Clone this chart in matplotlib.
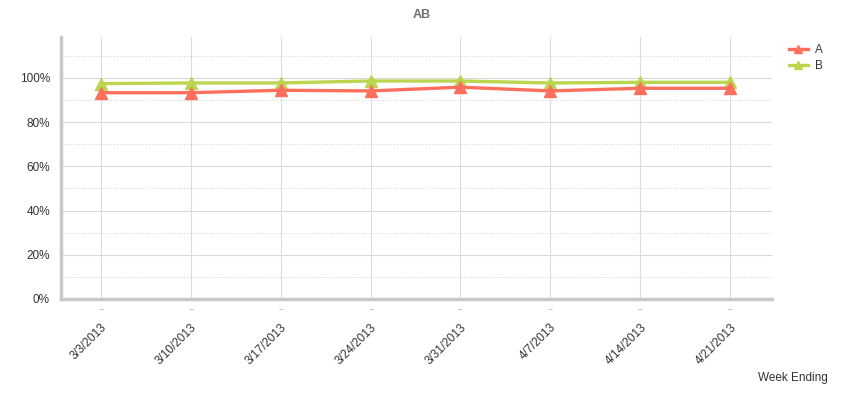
import matplotlib.pyplot as plt
import matplotlib.transforms as mtransforms
from matplotlib.ticker import MultipleLocator, FuncFormatter

weeks = ["3/3/2013", "3/10/2013", "3/17/2013", "3/24/2013",
         "3/31/2013", "4/7/2013", "4/14/2013", "4/21/2013"]
series_a = [93.3, 93.3, 94.4, 94.1, 95.8, 94.1, 95.3, 95.3]
series_b = [97.4, 97.7, 97.7, 98.6, 98.6, 97.7, 98.0, 98.0]

plt.rcParams['font.family'] = ['Liberation Sans', 'DejaVu Sans']

fig = plt.figure(figsize=(8.6, 3.96), dpi=100)
ax = fig.add_axes([0.0709, 0.245, 0.8268, 0.6616])

x = list(range(len(weeks)))
ax.plot(x, series_a, color='#FF6F5E', linewidth=2.4, marker='^', markersize=9,
        label='A', zorder=4)
ax.plot(x, series_b, color='#B9D64E', linewidth=2.4, marker='^', markersize=9,
        label='B', zorder=3)

ax.set_xlim(-0.444, 7.467)
ax.set_ylim(0, 118.5)

# grid: solid at every 20%, dotted in between
ax.yaxis.set_major_locator(MultipleLocator(20))
ax.yaxis.set_minor_locator(MultipleLocator(10))
ax.yaxis.set_major_formatter(FuncFormatter(lambda v, p: f"{int(v)}%"))
ax.grid(axis='y', which='major', color='#D9D9D9', linewidth=0.8)
ax.grid(axis='y', which='minor', color='#D0D0D0', linewidth=0.7, linestyle=(0, (1, 2)))
ax.grid(axis='x', which='major', color='#DCDCDC', linewidth=0.8)
ax.set_axisbelow(True)

ax.set_xticks(x)
ax.set_xticklabels(weeks, rotation=45, ha='right', rotation_mode='anchor')
ax.tick_params(axis='x', length=0, pad=16, labelsize=8.5, labelcolor='#333333')
ax.tick_params(axis='y', which='both', length=0, pad=8, labelsize=8.5, labelcolor='#333333')

# little detached tick dashes under the axis
trans = mtransforms.blended_transform_factory(ax.transData, ax.transAxes)
ax.scatter(x, [-0.038] * len(x), transform=trans, marker='_', s=6,
           color='#C8C8C8', linewidths=0.8, clip_on=False)

for side in ['top', 'right']:
    ax.spines[side].set_visible(False)
for side in ['left', 'bottom']:
    ax.spines[side].set_color('#C8C8C8')
    ax.spines[side].set_linewidth(2.5)

fig.text(0.49, 0.963, "AB", ha='center', va='center', fontsize=9,
         fontweight='bold', color='#6E6E6E')
fig.text(0.962, 0.045, "Week Ending", ha='right', va='center', fontsize=8.5,
         color='#333333')

fig.legend(loc='upper left', bbox_to_anchor=(0.905, 0.915), frameon=False,
           fontsize=8.5, handlelength=1.6, handletextpad=0.6, labelspacing=0.3,
           markerscale=0.7, labelcolor='#333333')

fig.savefig("out.png", dpi=100)
